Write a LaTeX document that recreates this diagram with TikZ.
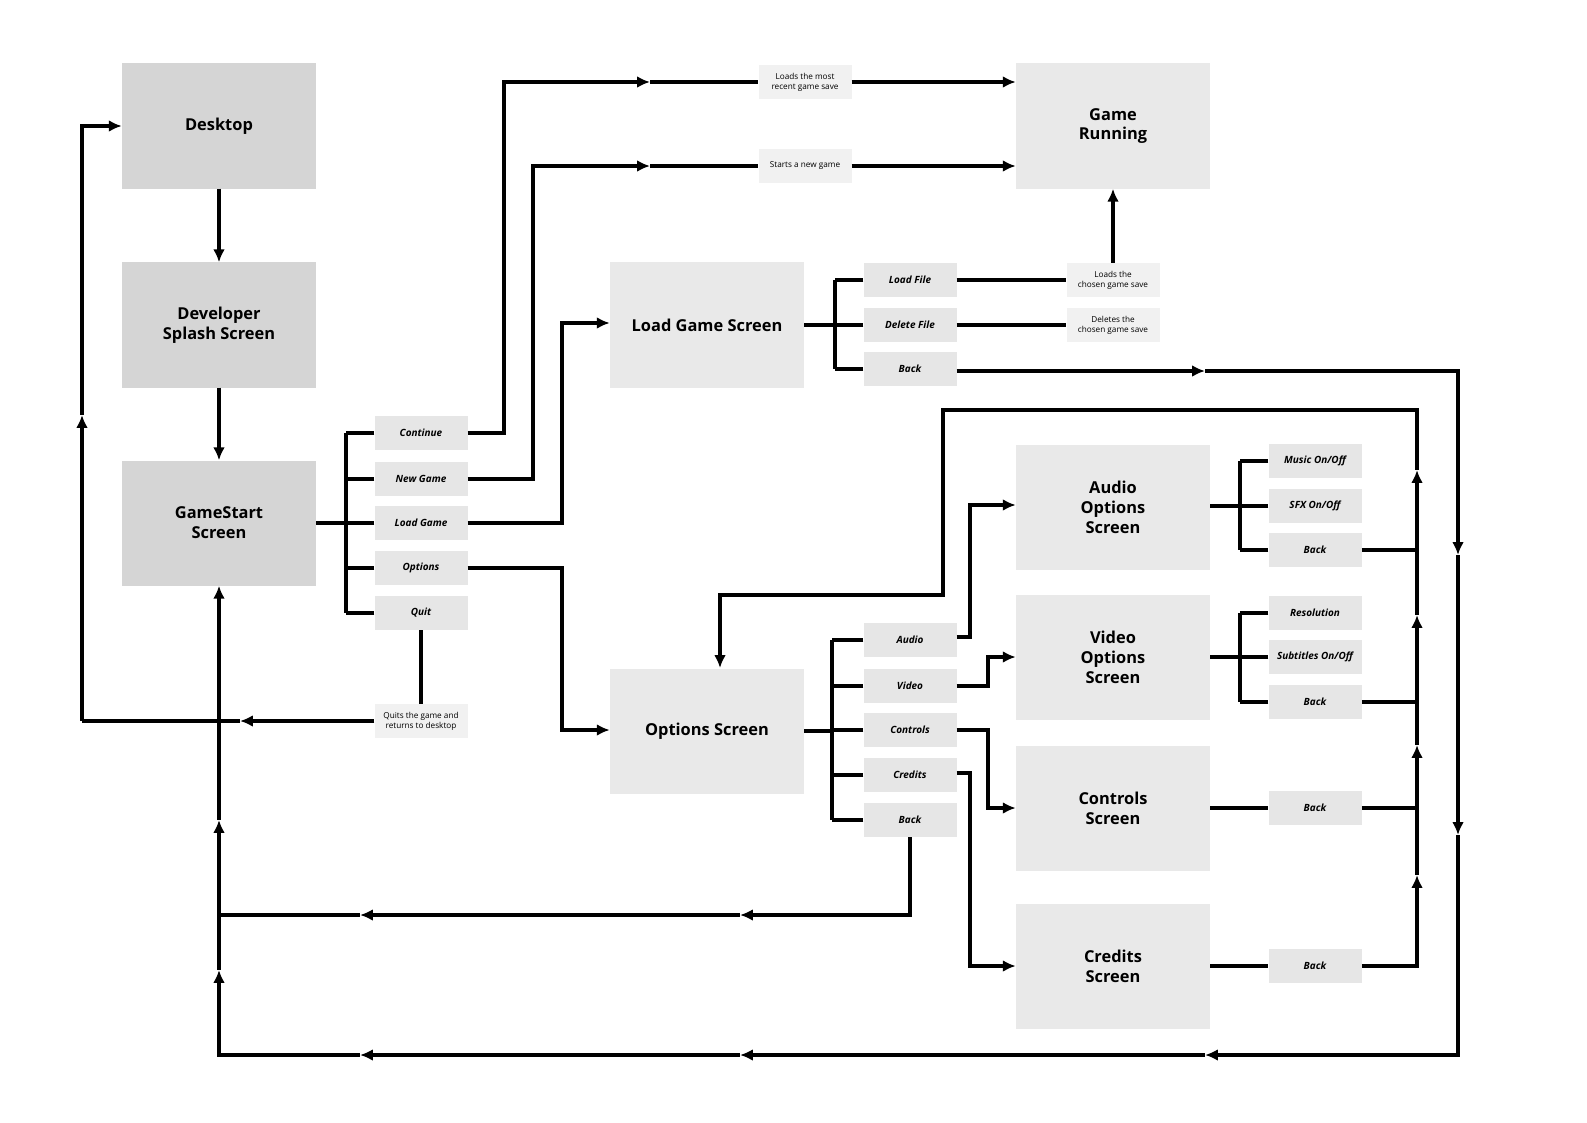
\documentclass[tikz,border=0pt]{standalone}
\usepackage{fontspec}
\setmainfont{Open Sans}
\usetikzlibrary{arrows.meta}
\definecolor{darkbox}{HTML}{D5D5D5}
\definecolor{lightbox}{HTML}{E9E9E9}
\definecolor{optbox}{HTML}{E6E6E6}
\definecolor{notebox}{HTML}{F1F1F1}
\newcommand{\bigf}{\fontsize{14}{17}\selectfont\bfseries}
\newcommand{\optf}{\fontsize{8.5}{10}\selectfont\bfseries\itshape}
\newcommand{\notef}{\fontsize{7}{8.5}\selectfont}
\tikzset{
  scr/.style={fill=lightbox, minimum width=5.82cm, minimum height=3.75cm, font=\bigf, align=center, inner sep=0pt},
  scrd/.style={scr, fill=darkbox},
  opt/.style={fill=optbox, minimum width=2.79cm, minimum height=1.02cm, font=\optf, inner sep=0pt},
  note/.style={opt, fill=notebox, font=\notef, align=center},
  link/.style={line width=2.7pt},
  to/.style={link, -{Latex[length=11pt,width=10pt]}},
}
\begin{document}
\begin{tikzpicture}[x=0.03cm, y=-0.03cm]
\useasboundingbox (0,0) rectangle (1587,1123);
% screens
\node[scrd] (desk) at (219,126) {Desktop};
\node[scrd] (splash) at (219,325) {Developer\\Splash Screen};
\node[scrd] (gs) at (219,523) {GameStart\\Screen};
\node[scr] (game) at (1113,126) {Game\\Running};
\node[scr] (lgs) at (707,325) {Load Game Screen};
\node[scr] (os) at (707,731) {Options Screen};
\node[scr] (aos) at (1113,507) {Audio\\Options\\Screen};
\node[scr] (vos) at (1113,657) {Video\\Options\\Screen};
\node[scr] (cos) at (1113,808) {Controls\\Screen};
\node[scr] (crs) at (1113,966) {Credits\\Screen};
% main menu
\node[opt] (cont) at (421,433) {Continue};
\node[opt] (newg) at (421,479) {New Game};
\node[opt] (load) at (421,523) {Load Game};
\node[opt] (opts) at (421,568) {Options};
\node[opt] (quit) at (421,613) {Quit};
% load menu
\node[opt] (lfile) at (910,280) {Load File};
\node[opt] (dfile) at (910,325) {Delete File};
\node[opt] (lback) at (910,369) {Back};
% options menu
\node[opt] (audio) at (910,640) {Audio};
\node[opt] (video) at (910,686) {Video};
\node[opt] (ctrl) at (910,730) {Controls};
\node[opt] (cred) at (910,775) {Credits};
\node[opt] (oback) at (910,820) {Back};
% sub menus
\node[opt] (music) at (1315,461) {Music On/Off};
\node[opt] (sfx) at (1315,506) {SFX On/Off};
\node[opt] (aback) at (1315,550) {Back};
\node[opt] (res) at (1315,613) {Resolution};
\node[opt] (subt) at (1315,657) {Subtitles On/Off};
\node[opt] (vback) at (1315,702) {Back};
\node[opt] (cback) at (1315,808) {Back};
\node[opt] (crback) at (1315,966) {Back};
% notes
\node[note] (nrecent) at (805,82) {Loads the most\\recent game save};
\node[note] (nnew) at (805,166) {Starts a new game};
\node[note] (nload) at (1113,280) {Loads the\\chosen game save};
\node[note] (ndel) at (1113,325) {Deletes the\\chosen game save};
\node[note] (nquit) at (421,721) {Quits the game and\\returns to desktop};
% helper points
\coordinate (m1) at (650,82);
\coordinate (m2) at (650,166);
\coordinate (q1) at (240,721);
\coordinate (q2) at (82,415);
\coordinate (b1) at (1205,371);
\coordinate (b2) at (1458,555);
\coordinate (b3) at (1458,835);
\coordinate (b4) at (1205,1055);
\coordinate (b5) at (740,1055);
\coordinate (b6) at (360,1055);
\coordinate (b7) at (219,970);
\coordinate (b8) at (219,820);
\coordinate (o1) at (740,915);
\coordinate (o2) at (360,915);
\coordinate (o3) at (219,915);
\coordinate (r1) at (1417,875);
\coordinate (r2) at (1417,745);
\coordinate (r3) at (1417,615);
\coordinate (r4) at (1417,470);
\coordinate (r5) at (720,668);

% start sequence
\draw[to] (desk) -- (splash);
\draw[to] (splash) -- (gs);
% main menu bracket
\draw[link] (gs.east) -- (346,523);
\draw[link] (346,433) -- (346,613);
\foreach \n in {cont,newg,load,opts,quit} \draw[link] (\n.west) -- (\n.west -| 346,0);
% quit
\draw[link] (quit) -- (nquit);
\draw[to] (nquit.west) -- (q1);
\draw[link] (q1) -- (82,721);
\draw[to] (82,721) -- (q2);
\draw[to] (q2) |- (desk.west);
% continue / new game
\draw[to] (cont.east) -| (504,82) -- (m1);
\draw[link] (m1) -- (nrecent.west);
\draw[to] (nrecent.east) -- (game.west |- nrecent);
\draw[to] (newg.east) -| (533,166) -- (m2);
\draw[link] (m2) -- (nnew.west);
\draw[to] (nnew.east) -- (game.west |- nnew);
% load / options
\draw[to] (load.east) -| (562,323) -- (lgs.west |- 0,323);
\draw[to] (opts.east) -| (562,730) -- (os.west |- 0,730);
% load game menu
\draw[link] (lgs.east) -- (835,325);
\draw[link] (835,280) -- (835,369);
\foreach \n in {lfile,dfile,lback} \draw[link] (\n.west) -- (\n.west -| 835,0);
\draw[link] (lfile) -- (nload);
\draw[link] (dfile) -- (ndel);
\draw[to] (nload.north) -- (game.south);
% load back loop
\draw[to] (lback.east |- b1) -- (b1);
\draw[to] (b1) -| (b2);
\draw[to] (b2) -- (b3);
\draw[to] (b3) |- (b4);
\draw[to] (b4) -- (b5);
\draw[to] (b5) -- (b6);
\draw[to] (b6) -| (b7);
\draw[to] (b7) -- (b8);
\draw[to] (b8) -- (gs.south);
% options menu
\draw[link] (os.east) -- (832,731);
\draw[link] (832,640) -- (832,820);
\foreach \n in {audio,video,ctrl,cred,oback} \draw[link] (\n.west) -- (\n.west -| 832,0);
\draw[to] (audio.east |- 0,637) -| (970,505) -- (aos.west |- 0,505);
\draw[to] (video.east) -| (988,657) -- (vos.west);
\draw[to] (ctrl.east) -| (988,808) -- (cos.west);
\draw[to] (cred.east |- 0,773) -| (970,966) -- (crs.west);
\draw[to] (oback.south) |- (o1);
\draw[to] (o1) -- (o2);
\draw[link] (o2) -- (o3);
% sub menus
\draw[link] (aos.east |- sfx) -- (1240,506);
\draw[link] (1240,461) -- (1240,550);
\foreach \n in {music,sfx,aback} \draw[link] (\n.west) -- (\n.west -| 1240,0);
\draw[link] (vos.east) -- (1240,657);
\draw[link] (1240,613) -- (1240,702);
\foreach \n in {res,subt,vback} \draw[link] (\n.west) -- (\n.west -| 1240,0);
\draw[link] (cos.east) -- (cback.west);
\draw[link] (crs.east) -- (crback.west);
\foreach \n in {aback,vback,cback,crback} \draw[link] (\n.east) -- (\n.east -| 1417,0);
% back to options
\draw[to] (1417,968) -- (r1);
\draw[to] (r1) -- (r2);
\draw[to] (r2) -- (r3);
\draw[to] (r3) -- (r4);
\draw[to] (r4) |- (943,410) |- (720,595) -- (r5);
\end{tikzpicture}
\end{document}
